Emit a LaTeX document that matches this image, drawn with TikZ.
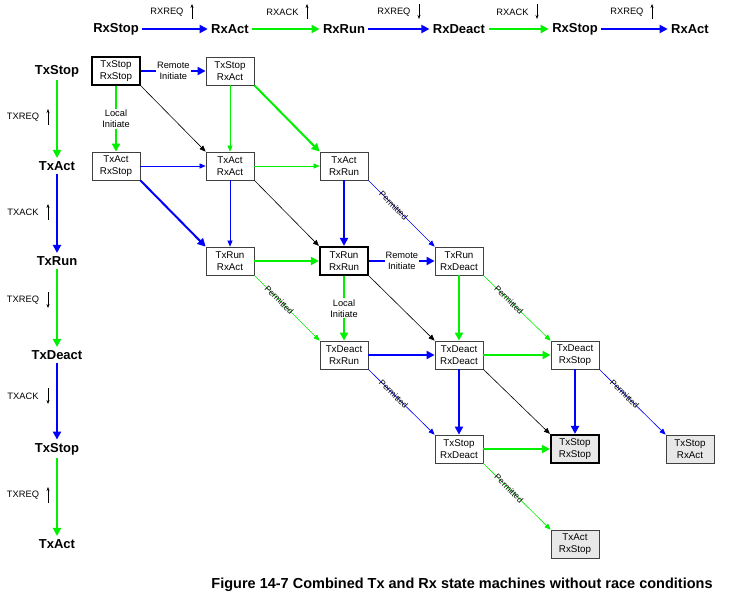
\documentclass[tikz,border=0pt]{standalone}
\usepackage{fontspec}
\setmainfont{Liberation Sans}
\usetikzlibrary{arrows.meta}
\definecolor{bl}{RGB}{0,0,255}
\definecolor{gr}{RGB}{0,240,0}
\definecolor{gb}{RGB}{232,232,232}
\begin{document}
\begin{tikzpicture}[x=1pt,y=-1pt,
 st/.style={draw=black!75,line width=0.8pt,fill=white,minimum width=48pt,minimum height=28pt,inner sep=0pt,align=center,font=\fontsize{9.8}{11.5}\selectfont},
 thk/.style={line width=2.2pt,draw=black},
 gry/.style={fill=gb},
 hd/.style={font=\bfseries\fontsize{13}{15}\selectfont},
 sm/.style={font=\fontsize{9.3}{11}\selectfont},
 T/.style={line width=2pt,-{Triangle[length=8pt,width=8pt]}},
 t/.style={line width=0.6pt,-{Triangle[length=6pt,width=5pt]}},
 B/.style={T,bl},G/.style={T,gr},b/.style={t,bl},g/.style={t,gr},k/.style={t,black},
 lab/.style={fill=white,text=black,inner sep=1pt,align=center,font=\fontsize{9.3}{11}\selectfont},
 pm/.style={sloped,text=black,inner sep=0.5pt,font=\fontsize{8.5}{9}\selectfont,pos=0.38}]
\useasboundingbox (0,0) rectangle (747,608);
\fill[white] (0,0) rectangle (747,608);
% top row
\foreach \n/\x/\s in {r1/116/RxStop,r2/230/RxAct,r3/344/RxRun,r4/459/RxDeact,r5/575/RxStop,r6/690/RxAct}
  \node[hd] (\n) at (\x,29) {\s};
\draw[B] (r1) -- (r2); \draw[G] (r2) -- (r3); \draw[B] (r3) -- (r4); \draw[G] (r4) -- (r5); \draw[B] (r5) -- (r6);
\foreach \x/\s/\d in {165/RXREQ/u,280/RXACK/u,392/RXREQ/d,510/RXACK/d,625/RXREQ/u}{
  \node[sm,anchor=east] (q\x) at (\x+22,12) {\s};
  \coordinate (qa\x) at (\x+27,4); \coordinate (qb\x) at (\x+27,19);
  \if u\d \draw[-{Stealth[length=4pt]},line width=0.6pt] (qb\x) -- (qa\x);
  \else \draw[-{Stealth[length=4pt]},line width=0.6pt] (qa\x) -- (qb\x); \fi}
% left column
\foreach \n/\y/\s in {l1/71/TxStop,l2/166/TxAct,l3/261/TxRun,l4/355/TxDeact,l5/449/TxStop,l6/544/TxAct}
  \node[hd] (\n) at (57,\y) {\s};
\draw[G] (l1) -- (l2); \draw[B] (l2) -- (l3); \draw[G] (l3) -- (l4); \draw[B] (l4) -- (l5); \draw[G] (l5) -- (l6);
\foreach \y/\s/\d in {117/TXREQ/u,212/TXACK/u,300/TXREQ/d,396/TXACK/d,495/TXREQ/u}{
  \node[sm] (p\y) at (23,\y) {\s};
  \coordinate (pa\y) at (48,\y-8); \coordinate (pb\y) at (48,\y+8);
  \if u\d \draw[-{Stealth[length=4pt]},line width=0.6pt] (pb\y) -- (pa\y);
  \else \draw[-{Stealth[length=4pt]},line width=0.6pt] (pa\y) -- (pb\y); \fi}
% states
\node[st,thk] (a11) at (116,71) {TxStop\\RxStop};
\node[st] (a12) at (230,71) {TxStop\\RxAct};
\node[st] (a21) at (116,166) {TxAct\\RxStop};
\node[st] (a22) at (230,166) {TxAct\\RxAct};
\node[st] (a23) at (344,166) {TxAct\\RxRun};
\node[st] (a32) at (230,261) {TxRun\\RxAct};
\node[st,thk] (a33) at (344,261) {TxRun\\RxRun};
\node[st] (a34) at (459,261) {TxRun\\RxDeact};
\node[st] (a43) at (344,355) {TxDeact\\RxRun};
\node[st] (a44) at (459,355) {TxDeact\\RxDeact};
\node[st] (a45) at (575,355) {TxDeact\\RxStop};
\node[st] (a54) at (459,449) {TxStop\\RxDeact};
\node[st,thk,gry] (a55) at (575,449) {TxStop\\RxStop};
\node[st,gry] (a56) at (690,449) {TxStop\\RxAct};
\node[st,gry] (a65) at (575,544) {TxAct\\RxStop};
% edges
\draw[B] (a11) -- node[lab]{Remote\\Initiate} (a12);
\draw[G] (a11) -- node[lab]{Local\\Initiate} (a21);
\draw[k] (a11.south east) -- (a22.north west);
\draw[g] (a12) -- (a22);
\draw[G] (a12.south east) -- (a23.north west);
\draw[b] (a21) -- (a22);
\draw[B] (a21.south east) -- (a32.north west);
\draw[g] (a22) -- (a23);
\draw[b] (a22) -- (a32);
\draw[k] (a22.south east) -- (a33.north west);
\draw[B] (a23) -- (a33);
\draw[b] (a23.south east) -- node[pm]{Permitted} (a34.north west);
\draw[G] (a32) -- (a33);
\draw[g] (a32.south east) -- node[pm]{Permitted} (a43.north west);
\draw[B] (a33) -- node[lab]{Remote\\Initiate} (a34);
\draw[G] (a33) -- node[lab]{Local\\Initiate} (a43);
\draw[k] (a33.south east) -- (a44.north west);
\draw[G] (a34) -- (a44);
\draw[g] (a34.south east) -- node[pm]{Permitted} (a45.north west);
\draw[B] (a43) -- (a44);
\draw[b] (a43.south east) -- node[pm]{Permitted} (a54.north west);
\draw[G] (a44) -- (a45);
\draw[B] (a44) -- (a54);
\draw[k] (a44.south east) -- (a55.north west);
\draw[B] (a45) -- (a55);
\draw[b] (a45.south east) -- node[pm]{Permitted} (a56.north west);
\draw[G] (a54) -- (a55);
\draw[g] (a54.south east) -- node[pm]{Permitted} (a65.north west);
\node[font=\bfseries\fontsize{14.5}{16}\selectfont] (cap) at (462,585) {Figure 14-7 Combined Tx and Rx state machines without race conditions};
\end{tikzpicture}
\end{document}
